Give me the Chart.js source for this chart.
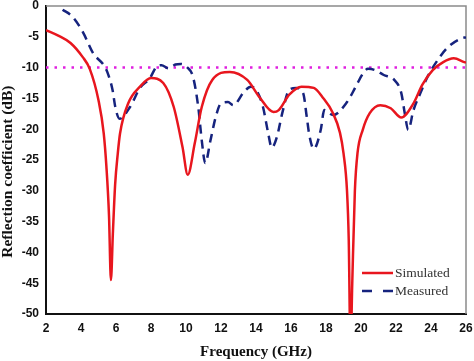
<!DOCTYPE html>
<html lang="en">
<head>
<meta charset="UTF-8">
<title>Reflection coefficient</title>
<script src="https://cdn.jsdelivr.net/npm/chart.js"></script>
<style>
  html, body { margin: 0; padding: 0; background: #ffffff; }
  #wrap { width: 474px; height: 361px; }
</style>
</head>
<body>
<div id="wrap"><canvas id="grafico" width="474" height="361"></canvas></div>
<script>
// simulated curve (GHz, dB)
var simFreq = [2, 2.7, 3.4, 4.1, 4.5, 5.0, 5.3, 5.45, 5.6, 5.71, 5.82, 5.95, 6.1, 6.23, 6.7, 7.37, 8.0, 8.7, 9.3, 9.8, 10.1, 10.5, 10.9, 11.5, 12.5, 13.5, 14.2, 15.0, 15.3, 15.9, 16.6, 17.3, 17.8, 18.4, 18.8, 19.0, 19.2, 19.3, 19.4, 19.5, 19.65, 19.8, 20.1, 20.5, 21.1, 21.7, 22.3, 23.0, 23.5, 24.1, 24.7, 25.3, 25.9, 26];
var simDb = [-3.9, -4.8, -6.0, -8.3, -10.2, -15.3, -20.7, -26, -34, -44.5, -37, -29, -24, -20.7, -15.8, -13.1, -11.7, -12.5, -16.4, -22.9, -27.4, -22.3, -16.4, -12, -10.7, -12, -14.8, -17.2, -16.9, -14.4, -13.1, -13.3, -14.8, -17.4, -20.6, -23.9, -30, -38, -56, -45, -30, -23.9, -20.1, -17.4, -16.1, -16.6, -18.1, -15.8, -12.8, -10.4, -9.1, -8.5, -9.1, -9.2];

// measured curve (GHz, dB)
var measFreq = [2.95, 3.5, 4.1, 4.7, 5.3, 5.5, 5.8, 5.96, 6.2, 6.8, 7.37, 7.94, 8.3, 8.6, 9.0, 9.4, 9.7, 10.05, 10.4, 10.7, 10.9, 11.1, 11.4, 11.7, 12.0, 12.4, 12.7, 13.3, 13.7, 14.0, 14.4, 14.7, 14.9, 15.2, 15.5, 15.9, 16.3, 16.7, 16.9, 17.05, 17.3, 17.7, 17.9, 18.4, 19.2, 19.7, 20.1, 20.4, 20.8, 21.3, 21.9, 22.3, 22.5, 22.7, 23.0, 23.4, 23.8, 24.5, 25.0, 25.8, 26];
var measDb = [-0.6, -1.7, -4.2, -7.7, -9.6, -10.7, -13.6, -16.4, -18.3, -16.4, -13.3, -11.7, -9.9, -9.6, -10.1, -9.5, -9.4, -9.9, -11.5, -16.4, -21.8, -25.5, -21.8, -18, -15.8, -15.6, -16.1, -14, -13.1, -13.6, -16.4, -20.7, -23, -21.2, -17.4, -13.6, -13.3, -14.2, -18, -21, -23.2, -20.1, -16.9, -17.7, -15.6, -13.1, -11, -10.2, -10.4, -11.2, -12, -14.1, -17.4, -20.1, -16.9, -14.1, -11.5, -8.3, -6.6, -5.2, -5.1];

// -10 dB reference line
var refFreq = [2, 26];
var refDb = [-10, -10];

var xTicks = [2, 4, 6, 8, 10, 12, 14, 16, 18, 20, 22, 24, 26];
var yTicks = [-50, -45, -40, -35, -30, -25, -20, -15, -10, -5, 0];

function pares(xs, ys) {
    var r = [];
    for (var i = 0; i < xs.length; i++) r.push({ x: xs[i], y: ys[i] });
    return r;
}

// gray frame on top/right, legend inside the plot
var molduraLegenda = {
    id: 'molduraLegenda',
    beforeDatasetsDraw: function (chart) {
        var a = chart.chartArea, ctx = chart.ctx;
        ctx.save();
        ctx.strokeStyle = '#8a8a8a';
        ctx.lineWidth = 1.5;
        ctx.beginPath();
        ctx.moveTo(a.left, a.top);
        ctx.lineTo(a.right, a.top);
        ctx.lineTo(a.right, a.bottom);
        ctx.stroke();
        ctx.restore();
    },
    afterDraw: function (chart) {
        var a = chart.chartArea, ctx = chart.ctx;
        var itens = [chart.data.datasets[0], chart.data.datasets[1]];
        var x0 = a.right - 104, y0 = a.bottom - 41;
        ctx.save();
        ctx.font = '13.5px "Liberation Serif"';
        ctx.textBaseline = 'middle';
        for (var i = 0; i < itens.length; i++) {
            var ds = itens[i], y = y0 + i * 18;
            ctx.strokeStyle = ds.borderColor;
            ctx.lineWidth = ds.borderWidth;
            ctx.setLineDash(ds.borderDash ? [10, 11] : []);
            ctx.beginPath();
            ctx.moveTo(x0, y);
            ctx.lineTo(x0 + 31, y);
            ctx.stroke();
            ctx.setLineDash([]);
            ctx.fillStyle = '#333333';
            ctx.fillText(ds.label, x0 + 33, y);
        }
        ctx.restore();
    }
};

var config = {
    type: 'line',
    data: {
        datasets: [{
            label: 'Simulated',
            data: pares(simFreq, simDb),
            borderColor: '#e8161e',
            borderWidth: 2.5,
            pointRadius: 0,
            cubicInterpolationMode: 'monotone',
            order: 1
        }, {
            label: 'Measured',
            data: pares(measFreq, measDb),
            borderColor: '#16237e',
            borderWidth: 2.5,
            borderDash: [9, 6],
            pointRadius: 0,
            cubicInterpolationMode: 'monotone',
            order: 2
        }, {
            label: 'ref',
            data: pares(refFreq, refDb),
            borderColor: '#e020e0',
            borderWidth: 2.5,
            borderDash: [2.5, 6],
            pointRadius: 0,
            order: 3
        }]
    },
    options: {
        responsive: false,
        animation: false,
        layout: { padding: 0 },
        plugins: {
            legend: { display: false },
            tooltip: { enabled: false }
        },
        scales: {
            x: {
                type: 'linear',
                min: 2,
                max: 26,
                afterBuildTicks: function (axis) {
                    axis.ticks = xTicks.map(function (v) { return { value: v }; });
                },
                afterFit: function (axis) {
                    axis.height = 47;
                    axis.paddingLeft = 0;
                    axis.paddingRight = 8;
                },
                grid: { display: false, drawTicks: false },
                border: { display: true, color: '#111111', width: 2 },
                ticks: {
                    color: '#111111',
                    padding: 7,
                    maxRotation: 0,
                    autoSkip: false,
                    font: { family: '"Liberation Sans"', size: 12, weight: 'bold' }
                },
                title: {
                    display: true,
                    text: 'Frequency (GHz)',
                    color: '#111111',
                    padding: { top: 0, bottom: 0 },
                    font: { family: '"Liberation Serif"', size: 15, weight: 'bold' }
                }
            },
            y: {
                min: -50,
                max: 0,
                afterBuildTicks: function (axis) {
                    axis.ticks = yTicks.map(function (v) { return { value: v }; });
                },
                afterFit: function (axis) {
                    axis.width = 46;
                    axis.paddingTop = 6;
                    axis.paddingBottom = 0;
                },
                grid: { display: false, drawTicks: false },
                border: { display: true, color: '#111111', width: 2 },
                ticks: {
                    color: '#111111',
                    padding: 7,
                    autoSkip: false,
                    font: { family: '"Liberation Sans"', size: 12, weight: 'bold' }
                },
                title: {
                    display: true,
                    text: 'Reflection coefficient (dB)      ',
                    color: '#111111',
                    padding: { top: 0, bottom: 0 },
                    font: { family: '"Liberation Serif"', size: 15.5, weight: 'bold', lineHeight: 1 }
                }
            }
        }
    },
    plugins: [molduraLegenda]
};

var ctx = document.getElementById('grafico').getContext('2d');
var myChart = new Chart(ctx, config);
</script>
</body>
</html>
